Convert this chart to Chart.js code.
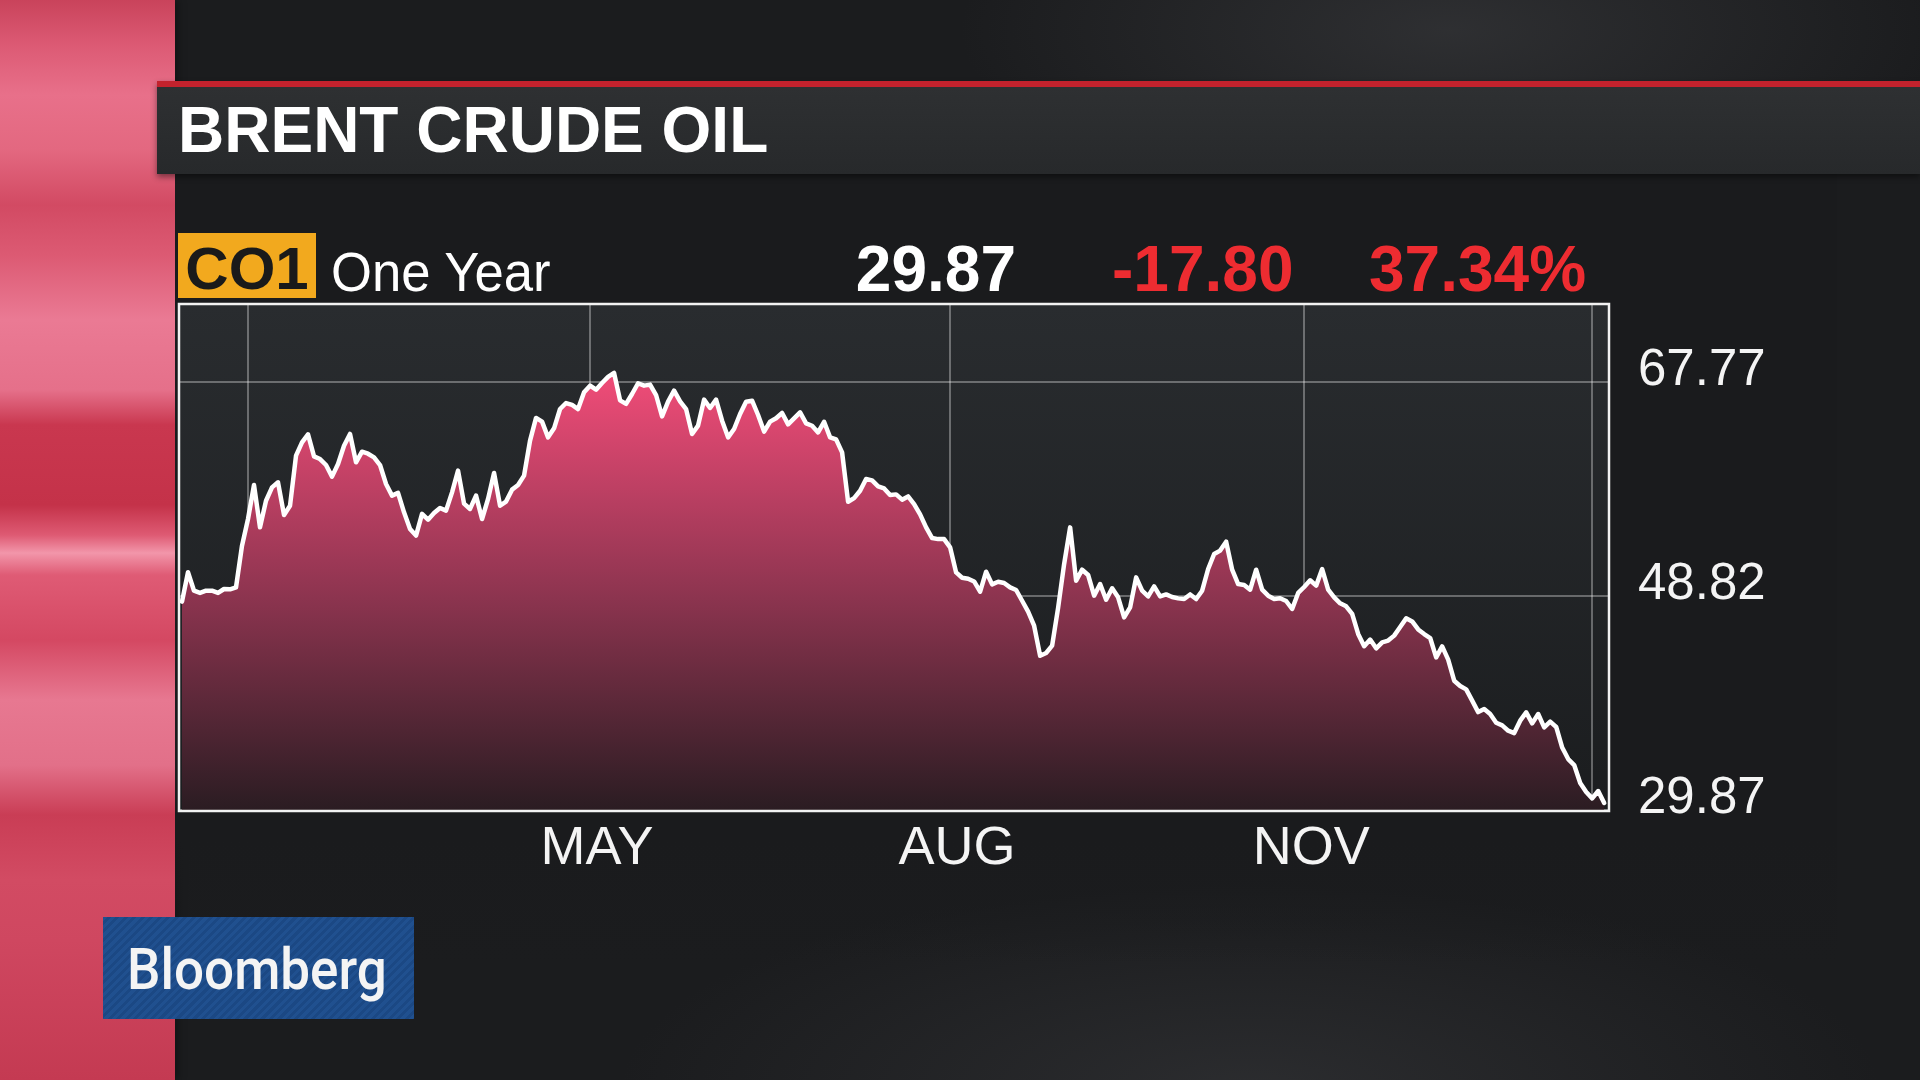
<!DOCTYPE html>
<html>
<head>
<meta charset="utf-8">
<title>Brent Crude Oil</title>
<script src="https://cdn.jsdelivr.net/npm/chart.js@4.4.1/dist/chart.umd.min.js"></script>
<style>
  html, body { margin: 0; padding: 0; }
  body {
    width: 1920px; height: 1080px; overflow: hidden; position: relative;
    font-family: "Liberation Sans", Arial, sans-serif;
    background:
      radial-gradient(ellipse 700px 260px at 1450px 30px, rgba(62,63,66,.55), rgba(62,63,66,0) 70%),
      radial-gradient(ellipse 900px 300px at 1250px 1090px, rgba(54,55,58,.6), rgba(54,55,58,0) 70%),
      #1b1c1e;
  }
  .abs { position: absolute; white-space: nowrap; }
  #stripe {
    left: 0; top: 0; width: 175px; height: 1080px;
    background: linear-gradient(180deg,
      #c9435b 0px, #dc5a74 45px, #e8708a 95px, #e36880 150px, #d24a63 205px,
      #dc5a73 255px, #ea7a94 320px, #e5708a 390px, #c9374f 425px, #c43249 505px,
      #de5a73 535px, #f296aa 553px, #df5b75 575px, #d44862 640px, #e77891 700px,
      #e27089 765px, #c93d55 815px, #d24b63 880px, #cf4760 940px, #c43a52 1080px);
    box-shadow: 3px 0 8px rgba(0,0,0,.35);
  }
  #panel {
    left: 175px; top: 174px; width: 1662px; height: 790px;
    background: linear-gradient(180deg, #1a1b1d 0, #1a1b1d 84%, rgba(26,27,29,0) 100%);
  }
  #header {
    left: 157px; top: 81px; width: 1763px; height: 93px; box-sizing: border-box;
    border-top: 6px solid #c3222d;
    background: linear-gradient(180deg, #2e3032, #27292b);
    box-shadow: 0 3px 6px rgba(0,0,0,.45);
  }
  #title { left: 178px; top: 98px; font-size: 64px; line-height: 64px; font-weight: bold; color: #fff; }
  #ticker {
    left: 178px; top: 233px; width: 138px; height: 65px; background: #f2a91e;
    font-size: 60px; line-height: 72px; font-weight: bold; color: #1a1a1a; text-align: center;
  }
  #period { left: 331px; top: 244px; font-size: 56px; line-height: 56px; color: #fff; transform: scaleX(.94); transform-origin: left; }
  .num { top: 237px; font-size: 64px; line-height: 64px; font-weight: bold; }
  #last { right: 904px; color: #fff; }
  #change { left: 1112px; color: #ee2c31; }
  #pct { left: 1369px; color: #ee2c31; }
  #chartBox { left: 160px; top: 290px; width: 1680px; height: 640px; }
  #logo {
    left: 103px; top: 917px; width: 311px; height: 102px;
    background: repeating-linear-gradient(135deg, #20508f 0 3px, #1b4884 3px 6px);
  }
  #logo span {
    position: absolute; left: 24px; top: 24px; font-family: Roboto, "Liberation Sans", sans-serif;
    font-weight: 500; font-size: 57px; line-height: 57px; color: #f4f4f4;
    transform: scaleX(.93); transform-origin: left;
  }
</style>
</head>
<body>
<div id="stripe" class="abs"></div>
<div id="panel" class="abs"></div>
<div id="header" class="abs"></div>
<div id="title" class="abs">BRENT CRUDE OIL</div>
<div id="ticker" class="abs">CO1</div>
<div id="period" class="abs">One Year</div>
<div id="last" class="abs num">29.87</div>
<div id="change" class="abs num">-17.80</div>
<div id="pct" class="abs num">37.34%</div>
<div id="chartBox" class="abs"><canvas id="oil" width="1680" height="640"></canvas></div>
<div id="logo" class="abs"><span>Bloomberg</span></div>

<script>
// daily closes (one per session, left to right)
const closes = [
    48.32, 50.92, 49.29, 49.09, 49.29, 49.29, 49.09, 49.44, 49.41, 49.59,
    53.28, 55.64, 58.65, 54.90, 57.26, 58.44, 58.89, 56.00, 56.82, 61.25,
    62.43, 63.14, 61.19, 60.95, 60.42, 59.39, 60.51, 62.13, 63.17, 60.66,
    61.60, 61.42, 61.10, 60.42,
    58.74, 57.71, 57.95, 56.23, 54.76, 54.17, 56.09, 55.58, 56.17, 56.62,
    56.38, 58.00, 59.92, 57.00, 56.53, 57.71, 55.64, 57.41, 59.72, 56.82,
    57.18, 58.24, 58.65, 59.48, 62.58, 64.59, 64.26, 62.87, 63.67, 65.38,
    65.91, 65.74, 65.38, 66.86,
    67.45, 67.09, 67.68, 68.22, 68.57, 66.15, 65.83, 66.71, 67.66, 67.45,
    67.54, 66.62, 64.73, 66.03, 67.01, 66.06, 65.38, 63.17, 63.91, 66.21,
    65.47, 66.21, 64.35, 62.87, 63.61, 64.94, 66.03, 66.12, 64.85, 63.38,
    64.26, 64.56, 65.03, 64.02,
    64.55, 65.08, 64.11, 63.90, 63.31, 64.25, 62.87, 62.69, 61.54, 57.17,
    57.49, 58.14, 59.18, 59.06, 58.53, 58.35, 57.76, 57.82, 57.35, 57.64,
    56.96, 56.05, 54.90, 53.95, 53.86, 53.86, 53.13, 50.91, 50.44, 50.35,
    50.11, 49.20, 50.97, 49.85, 50.08,
    49.97, 49.58, 49.35, 48.40, 47.43, 46.19, 43.53, 43.77, 44.42, 47.78,
    51.65, 54.90, 50.17, 51.15, 50.68, 48.85, 49.88, 48.49, 49.50, 48.70,
    46.93, 47.81, 50.47, 49.29, 48.79, 49.67, 48.79, 48.96, 48.73, 48.61,
    48.55, 48.96, 48.55, 49.29,
    51.21, 52.54, 52.84, 53.63, 51.15, 49.88, 49.80, 49.38, 51.15, 49.38,
    48.85, 48.56, 48.62, 48.38, 47.67, 49.09, 49.62, 50.21, 49.74, 51.21,
    49.38, 48.70, 48.17, 47.91, 47.23, 45.46, 44.37, 44.96, 44.19, 44.72,
    44.87, 45.31, 46.08, 46.84,
    46.57, 45.86, 45.45, 45.10, 43.38, 44.36, 43.18, 41.32, 40.85, 40.55,
    39.55, 38.54, 38.81, 38.37, 37.60, 37.36, 36.89, 36.68, 37.78, 38.51,
    37.54, 38.37, 37.19, 37.69, 37.22, 35.40, 34.38, 33.85, 32.26, 31.46,
    30.90, 31.55, 30.49
];

// session index of each vertical gridline, and its label
const monthTicks = [11, 68, 128, 187, 235];
const monthNames = ["", "MAY", "AUG", "NOV", ""];

// price levels shown on the right
const priceTicks = [29.87, 48.82, 67.77];

const FONT = "'Liberation Sans', Arial, sans-serif";

function pinkFill(context) {
    const chart = context.chart;
    const area = chart.chartArea;
    if (!area) return null;
    const g = chart.ctx.createLinearGradient(0, area.top, 0, area.bottom);
    g.addColorStop(0, "#f65383");
    g.addColorStop(0.14, "#f04c78");
    g.addColorStop(0.58, "#8c344f");
    g.addColorStop(1, "#2a1c22");
    return g;
}

// dark plot background and the white frame round it
const plotFrame = {
    id: "plotFrame",
    beforeDraw(chart) {
        const { ctx, chartArea: a } = chart;
        const g = ctx.createLinearGradient(0, a.top, 0, a.bottom);
        g.addColorStop(0, "#292c2f");
        g.addColorStop(1, "#1b1d1f");
        ctx.save();
        ctx.fillStyle = g;
        ctx.fillRect(a.left, a.top, a.right - a.left, a.bottom - a.top);
        ctx.restore();
    },
    afterDraw(chart) {
        const { ctx, chartArea: a } = chart;
        ctx.save();
        ctx.strokeStyle = "#f2f2f2";
        ctx.lineWidth = 2.5;
        ctx.strokeRect(a.left, a.top, a.right - a.left, a.bottom - a.top);
        ctx.restore();
    },
};

const canvas = document.getElementById("oil");
const oilChart = new Chart(canvas, {
    type: "line",
    data: {
        datasets: [{
            data: closes.map((v, i) => ({ x: i, y: v })),
            borderColor: "#ffffff",
            borderWidth: 4.5,
            borderJoinStyle: "round",
            borderCapStyle: "round",
            pointRadius: 0,
            tension: 0,
            fill: "start",
            backgroundColor: pinkFill,
        }],
    },
    options: {
        responsive: false,
        animation: false,
        devicePixelRatio: 1,
        layout: { padding: { left: 19, top: 14, right: 0, bottom: 0 } },
        plugins: {
            legend: { display: false },
            tooltip: { enabled: false },
        },
        scales: {
            x: {
                type: "linear",
                min: -0.5,
                max: 237.8,
                z: 1,
                afterBuildTicks: (s) => { s.ticks = monthTicks.map((v) => ({ value: v })); },
                afterFit: (s) => {
                    s.height = 119;
                    s.paddingLeft = 0;
                    s.paddingRight = 0;
                },
                grid: { color: "rgba(255,255,255,0.32)", lineWidth: 2, drawTicks: false },
                border: { display: false },
                ticks: {
                    color: "#f4f4f4",
                    font: { family: FONT, size: 54 },
                    padding: 6,
                    labelOffset: 7,
                    maxRotation: 0,
                    autoSkip: false,
                    callback: (v) => monthNames[monthTicks.indexOf(v)],
                },
            },
            y: {
                position: "right",
                min: 29.78,
                max: 74.68,
                z: 1,
                afterBuildTicks: (s) => { s.ticks = priceTicks.map((v) => ({ value: v })); },
                afterFit: (s) => {
                    s.width = 231;
                    s.paddingTop = 0;
                    s.paddingBottom = 0;
                },
                grid: { color: "rgba(255,255,255,0.32)", lineWidth: 2, drawTicks: false },
                border: { display: false },
                ticks: {
                    color: "#f4f4f4",
                    font: { family: FONT, size: 51 },
                    padding: 29,
                    labelOffset: -11,
                    callback: (v) => v.toFixed(2),
                },
            },
        },
    },
    plugins: [plotFrame],
});
</script>
</body>
</html>
